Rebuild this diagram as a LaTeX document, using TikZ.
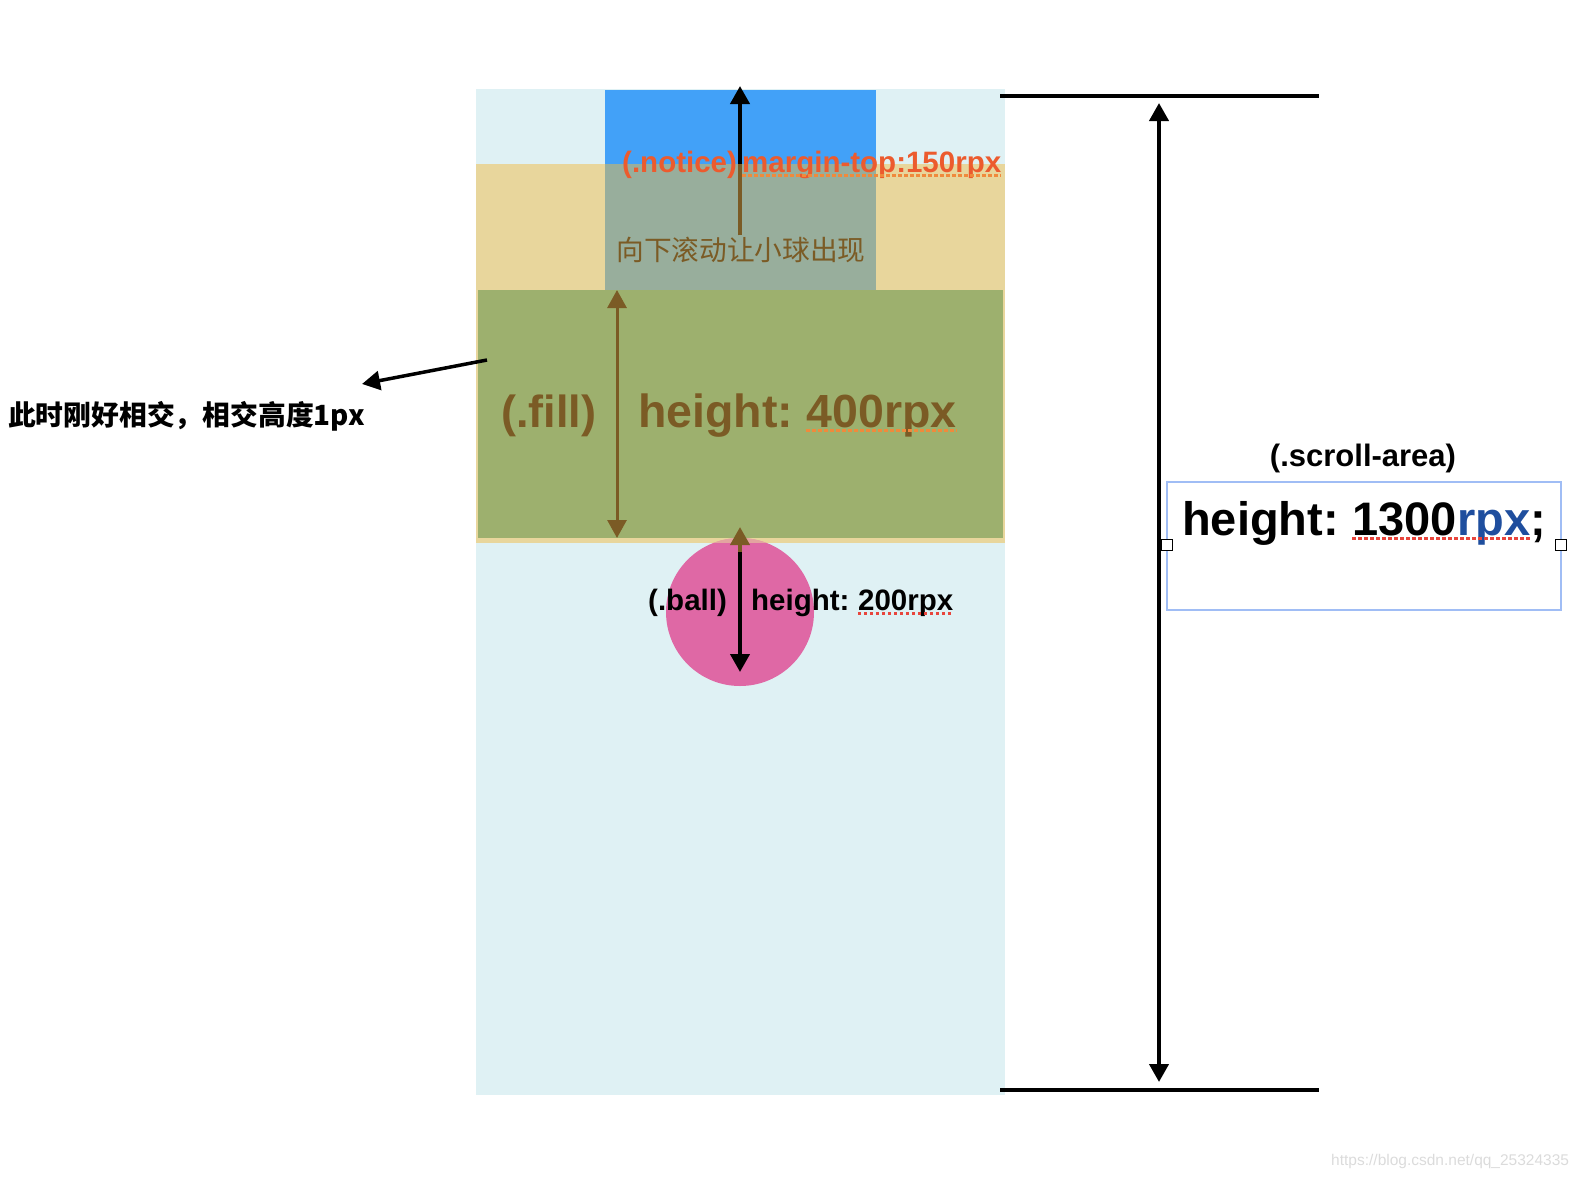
\documentclass[tikz,border=0pt]{standalone}
\usepackage{fontspec}
\setmainfont{Liberation Sans}
\newfontfamily\cjk{Noto Sans CJK SC}
\usetikzlibrary{arrows.meta}
\definecolor{scrollbg}{HTML}{DFF1F4}
\definecolor{noticeblue}{HTML}{42A1F8}
\definecolor{tanband}{HTML}{E8D69C}
\definecolor{overlapc}{HTML}{98AE9C}
\definecolor{fillgreen}{HTML}{9DB06E}
\definecolor{ballpink}{HTML}{DF68A5}
\definecolor{brownc}{HTML}{7B5B25}
\definecolor{noticered}{HTML}{EC5B2E}
\definecolor{dotorange}{HTML}{F08A3C}
\definecolor{dotred}{HTML}{E8453C}
\definecolor{rpxblue}{HTML}{1F4E9E}
\definecolor{boxblue}{HTML}{A0BDF5}
\begin{document}
\begin{tikzpicture}[x=1pt,y=-1pt,
  lbl/.style={inner sep=0pt, anchor=base west},
  squig/.style={line width=3pt, dash pattern=on 3.5pt off 2.5pt},
  tipend/.style={-{Triangle[width=19pt,length=18pt]}},
  tipboth/.style={{Triangle[width=19pt,length=18pt]}-{Triangle[width=19pt,length=18pt]}},
  big/.style={font=\bfseries\fontsize{45}{54}\selectfont},
  bigh/.style={font=\bfseries\fontsize{46.5}{54}\selectfont},
  mid/.style={font=\bfseries\fontsize{29.5}{35}\selectfont},
  sabig/.style={font=\bfseries\fontsize{47}{56}\selectfont},
]
\useasboundingbox (0,0) rectangle (1584,1178);
% backgrounds
\fill[scrollbg] (476,89) rectangle (1005,1095);
\fill[tanband] (476,164) rectangle (1005,543);
\fill[noticeblue] (605,90) rectangle (876,164);
\fill[overlapc] (605,164) rectangle (876,290);
\fill[fillgreen] (478,290) rectangle (1003,538);
% ball
\fill[ballpink] (740,612) circle (74pt);
\begin{scope}
  \clip (740,612) circle (74pt);
  \fill[tanband, opacity=0.55] (476,530) rectangle (1005,543);
\end{scope}

% notice arrow
\coordinate (nA) at (740,235);
\coordinate (nB) at (740,86);
\coordinate (nM) at (740,164);
\draw[line width=4pt, tipend] (nA) -- (nB);
\draw[line width=4pt, brownc] (nA) -- (nM);

% notice text
\node[lbl, mid, text=noticered] (noticel) at (622,172) {(.notice)};
\node[lbl, mid, text=noticered] (noticev) at (742,172) {margin-top:150rpx};
\draw[squig, dotorange] ([yshift=-3pt]noticev.base west) -- ([yshift=-3pt]noticev.base east);

\node[anchor=center, inner sep=0pt, text=brownc, font=\cjk\fontsize{27.7}{32}\selectfont] (scrollnote) at (741,250) {向下滚动让小球出现};

% fill
\coordinate (fA) at (617,290);
\coordinate (fB) at (617,538);
\draw[brownc, line width=3pt, tipboth] (fA) -- (fB);
\node[lbl, big, text=brownc] (filllbl) at (501,427) {(.fill)};
\node[lbl, bigh, text=brownc] (fillh) at (638,427) {height:\kern0.28em};
\node[lbl, bigh, text=brownc] (fillv) at (fillh.base east) {400rpx};
\draw[squig, dotorange] ([yshift=-3pt]fillv.base west) -- ([yshift=-3pt]fillv.base east);

% ball arrow
\coordinate (bA) at (740,527);
\coordinate (bB) at (740,672);
\coordinate (bC) at (740,552);
\coordinate (bD) at (740,542);
\draw[line width=4pt, tipend] (bD) -- (bB);
\draw[line width=4pt, brownc, tipend] (bC) -- (bA);
\node[lbl, mid] (balllbl) at (648,610) {(.ball)};
\node[lbl, mid] (ballh) at (751,610) {height:\kern0.28em};
\node[lbl, mid] (ballv) at (ballh.base east) {200rpx};
\draw[squig, dotred] ([yshift=-3pt]ballv.base west) -- ([yshift=-3pt]ballv.base east);

% left note
\coordinate (lA) at (487,360);
\coordinate (lB) at (362,384);
\draw[line width=3.5pt, tipend] (lA) -- (lB);
\node[lbl, font=\cjk\bfseries\fontsize{27.8}{32}\selectfont] (note) at (8,425) {此时刚好相交，相交高度1px};

% scroll-area dimension
\coordinate (tL) at (1000,96);
\coordinate (tR) at (1319,96);
\coordinate (bL) at (1000,1090);
\coordinate (bR) at (1319,1090);
\draw[line width=4pt] (tL) -- (tR);
\draw[line width=4pt] (bL) -- (bR);
\coordinate (rA) at (1159,103);
\coordinate (rB) at (1159,1082);
\draw[line width=4pt, tipboth] (rA) -- (rB);

\node[inner sep=0pt, anchor=base, font=\bfseries\fontsize{31}{37}\selectfont] (salbl) at (1363,466) {(.scroll-area)};
\draw[boxblue, line width=2pt] (1167,482) rectangle (1561,610);
\node[lbl, sabig] (s1) at (1182,535) {height:\kern0.28em};
\node[lbl, sabig] (s2) at (s1.base east) {1300};
\node[lbl, sabig, text=rpxblue] (s3) at (s2.base east) {rpx};
\node[lbl, sabig] (s4) at (s3.base east) {;};
\draw[squig, dotred] ([yshift=-3pt]s2.base west) -- ([yshift=-3pt]s3.base east);
\node[draw, fill=white, minimum size=11pt, inner sep=0pt, line width=1pt] (h1) at (1167,545) {};
\node[draw, fill=white, minimum size=11pt, inner sep=0pt, line width=1pt] (h2) at (1561,545) {};

\node[lbl, text=black!14, font=\fontsize{15.5}{19}\selectfont] (wm) at (1331,1165) {https://blog.csdn.net/qq\_25324335};
\end{tikzpicture}
\end{document}
